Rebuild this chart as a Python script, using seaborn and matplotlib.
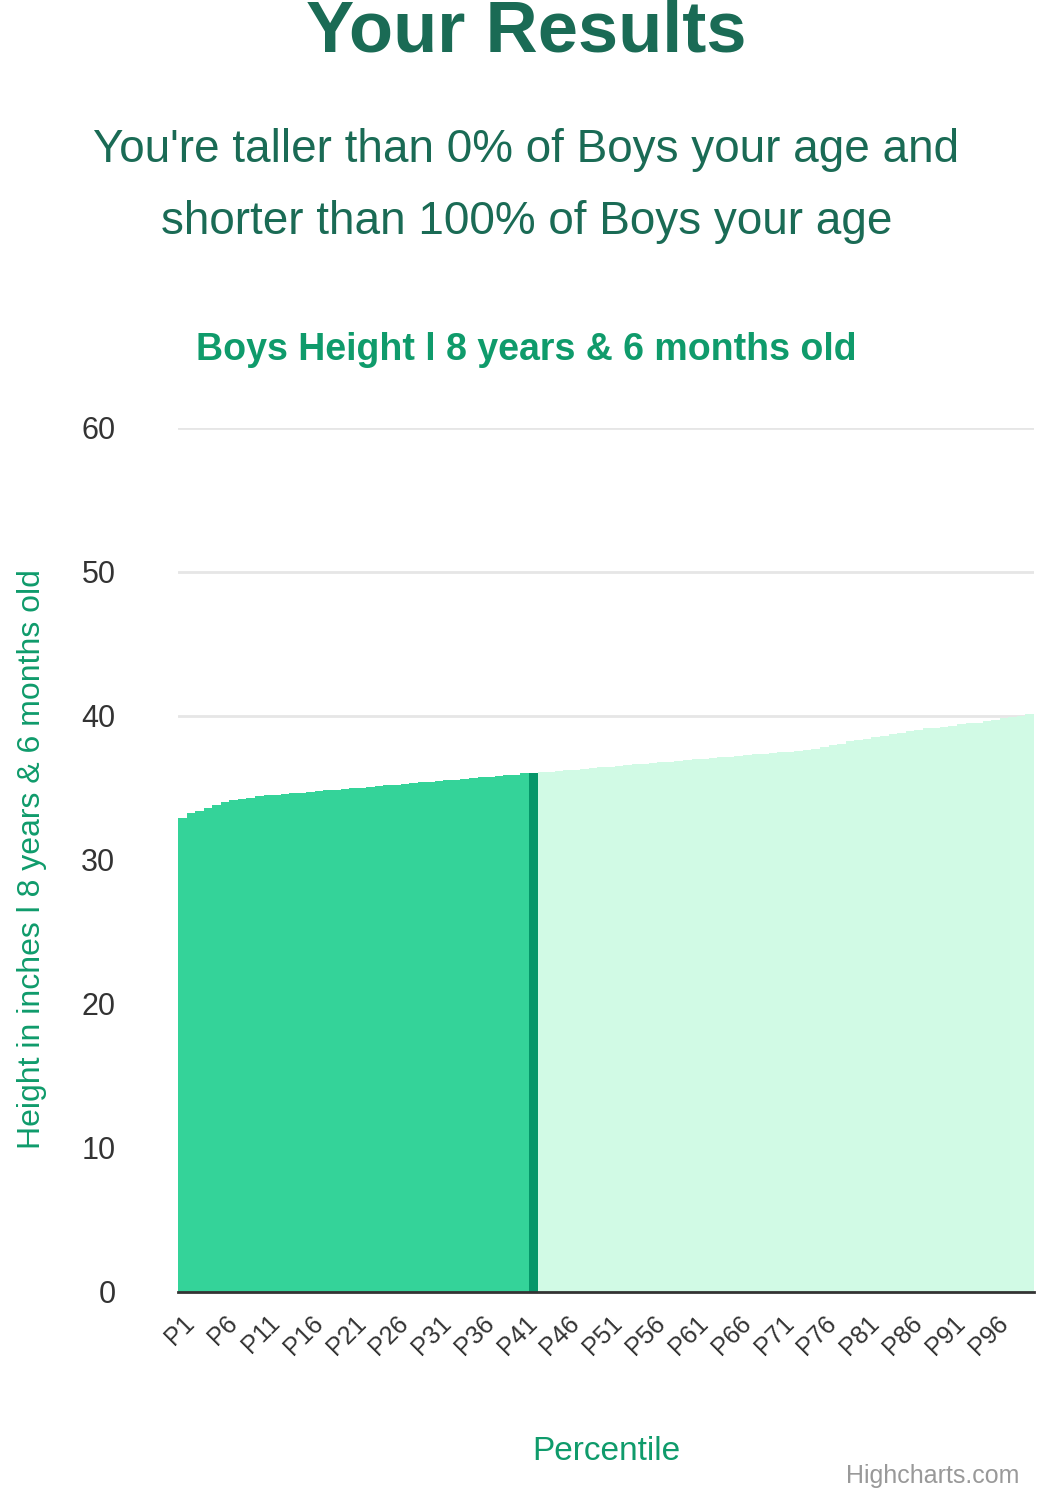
import numpy as np
import pandas as pd
import matplotlib
matplotlib.use("Agg")
import matplotlib.pyplot as plt
import seaborn as sns

# percentile labels and heights (inches)
percentiles = ["P%d" % i for i in range(1, 101)]
heights = [
    32.9, 33.2, 33.4, 33.6, 33.8, 34.0, 34.1, 34.2, 34.3, 34.4,
    34.45, 34.5, 34.55, 34.6, 34.65, 34.7, 34.75, 34.8, 34.85, 34.9,
    34.95, 35.0, 35.05, 35.1, 35.15, 35.2, 35.25, 35.3, 35.35, 35.4,
    35.45, 35.5, 35.55, 35.6, 35.65, 35.7, 35.75, 35.8, 35.85, 35.9,
    36.0, 36.0, 36.05, 36.1, 36.15, 36.2, 36.25, 36.3, 36.35, 36.4,
    36.45, 36.5, 36.55, 36.6, 36.65, 36.7, 36.75, 36.8, 36.85, 36.9,
    36.95, 37.0, 37.05, 37.1, 37.15, 37.2, 37.25, 37.3, 37.35, 37.4,
    37.45, 37.5, 37.55, 37.6, 37.7, 37.8, 37.95, 38.05, 38.2, 38.3,
    38.4, 38.5, 38.6, 38.7, 38.8, 38.9, 39.0, 39.1, 39.15, 39.2,
    39.3, 39.4, 39.45, 39.5, 39.6, 39.7, 39.8, 39.9, 40.0, 40.1,
]
user_index = 41  # highlighted bar (P42)

colors = ["#34d399" if i < user_index else "#d1fae5" for i in range(100)]
colors[user_index] = "#059669"

df = pd.DataFrame({"Percentile": percentiles, "Height": heights})

sns.set_style("white")
plt.rcParams["font.family"] = ["Liberation Sans", "DejaVu Sans"]

fig = plt.figure(figsize=(10.53, 15), dpi=100)
ax = fig.add_axes([0.169, 0.139, 0.813, 0.576])

sns.barplot(data=df, x="Percentile", y="Height", hue="Percentile",
            palette=colors, legend=False, width=1.0, saturation=1,
            linewidth=0, ax=ax)

ax.set_ylim(0, 60)
ax.set_xlim(-0.5, 99.5)
ax.set_yticks([0, 10, 20, 30, 40, 50, 60])
ax.yaxis.grid(True, color="#e6e6e6", linewidth=2)
ax.set_axisbelow(True)
for s in ["top", "right", "left"]:
    ax.spines[s].set_visible(False)
ax.spines["bottom"].set_color("#333333")
ax.spines["bottom"].set_linewidth(2)
ax.tick_params(axis="y", length=0, labelsize=22, colors="#333333", pad=45)
ax.set_xticks(range(0, 100, 5))
ax.set_xticklabels(percentiles[::5], rotation=45, ha="right",
                   rotation_mode="anchor", fontsize=18, color="#333333")
ax.tick_params(axis="x", length=0, pad=14)

ax.set_xlabel("Percentile", fontsize=24, color="#0f9b6b", labelpad=55)
ax.set_ylabel("Height in inches l 8 years & 6 months old", fontsize=23,
              color="#0f9b6b")
ax.yaxis.set_label_coords(-0.153, 0.5)

fig.text(0.5, 0.978, "Your Results", ha="center", va="center",
         fontsize=52, fontweight="bold", color="#1a6b55")
fig.text(0.5, 0.900, "You're taller than 0% of Boys your age and",
         ha="center", va="center", fontsize=33, color="#1a6b55")
fig.text(0.5, 0.852, "shorter than 100% of Boys your age",
         ha="center", va="center", fontsize=33, color="#1a6b55")
fig.text(0.5, 0.767, "Boys Height l 8 years & 6 months old", ha="center",
         va="center", fontsize=27, fontweight="bold", color="#0f9b6b")
fig.text(0.968, 0.016, "Highcharts.com", ha="right", va="center",
         fontsize=18, color="#999999")

fig.savefig("out.png", dpi=100)
